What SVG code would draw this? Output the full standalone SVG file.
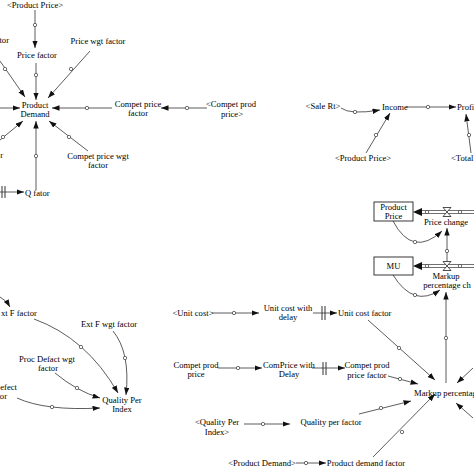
<svg xmlns="http://www.w3.org/2000/svg" width="474" height="474" viewBox="0 0 474 474">
<style>
text{font-family:"Liberation Serif","Times New Roman",serif;font-size:8.6px;fill:#000}
.m{text-anchor:middle}.e{text-anchor:end}
.c{fill:none;stroke:#333;stroke-width:0.8}
.a{marker-end:url(#ah)}
.o{fill:#fff;stroke:#333;stroke-width:0.7}
.box{fill:#fff;stroke:#222;stroke-width:0.9}
.p{fill:none;stroke:#333;stroke-width:0.7}
.d{stroke:#333;stroke-width:1}
.v{fill:#fff;stroke:#222;stroke-width:0.8}
</style>
<defs>
<marker id="ah" markerUnits="userSpaceOnUse" markerWidth="8" markerHeight="6" refX="7.5" refY="2.7" orient="auto"><path d="M0,0 L7.5,2.7 L0,5.4 z" fill="#111"/></marker>
</defs>
<rect width="474" height="474" fill="#fff"/>
<g id="connectors">
<path class="c a" d="M35,10 L35,48"/><circle class="o" cx="35" cy="25" r="1.7"/>
<path class="c a" d="M36,63 L36,100"/><circle class="o" cx="36" cy="75" r="1.7"/>
<path class="c a" d="M90,51 L48,98"/><circle class="o" cx="71" cy="69" r="1.7"/>
<path class="c a" d="M0,61 L25,97"/><circle class="o" cx="5" cy="69" r="1.7"/>
<path class="c a" d="M0,108 L20,108"/>
<path class="c a" d="M112,108 L52,108"/><circle class="o" cx="87" cy="108" r="1.7"/>
<path class="c a" d="M207,108 L161,108"/><circle class="o" cx="187" cy="108" r="1.7"/>
<path class="c a" d="M0,140 L23,121"/><circle class="o" cx="3" cy="137" r="1.7"/>
<path class="c a" d="M88,151 L49,121"/><circle class="o" cx="69" cy="137" r="1.7"/>
<path class="c a" d="M36,190 L36,121"/><circle class="o" cx="36" cy="156" r="1.7"/>
<path class="c a" d="M0,192 L24,192"/><line class="d" x1="2" y1="186" x2="2" y2="198"/><line class="d" x1="5" y1="186" x2="5" y2="198"/>
<path class="c a" d="M341,108 Q350,115 380,110"/><circle class="o" cx="355" cy="112" r="1.7"/>
<path class="c a" d="M406,107 L456,107"/><circle class="o" cx="428" cy="107" r="1.7"/>
<path class="c a" d="M366,153 L390,113"/><circle class="o" cx="376" cy="135" r="1.7"/>
<path class="c a" d="M471,153 L466,114"/><circle class="o" cx="469" cy="135" r="1.7"/>
<line class="p" x1="474" y1="210.5" x2="421" y2="210.5"/><line class="p" x1="474" y1="213.5" x2="421" y2="213.5"/>
<path d="M422,208 L413,212 L422,216 z" fill="#111"/>
<path class="v" d="M443,207.5 L451,207.5 L447,212 z M443,216.5 L451,216.5 L447,212 z"/>
<circle class="o" cx="427" cy="212" r="1.7"/><circle class="o" cx="460" cy="212" r="1.7"/>
<line class="p" x1="474" y1="264.5" x2="421" y2="264.5"/><line class="p" x1="474" y1="267.5" x2="421" y2="267.5"/>
<path d="M422,262 L413,266 L422,270 z" fill="#111"/>
<path class="v" d="M443,261.5 L451,261.5 L447,266 z M443,270.5 L451,270.5 L447,266 z"/>
<circle class="o" cx="427" cy="266" r="1.7"/><circle class="o" cx="460" cy="266" r="1.7"/>
<path class="c a" d="M393,221 Q412.5,258 442,231"/><circle class="o" cx="415" cy="242" r="1.7"/>
<path class="c a" d="M447,261 L447,228"/><circle class="o" cx="447" cy="251" r="1.7"/>
<path class="c a" d="M393,275 Q413.5,308 440,290"/><circle class="o" cx="415" cy="295" r="1.7"/>
<path class="c a" d="M446,383 L446,292"/><circle class="o" cx="446" cy="338" r="1.7"/>
<path class="c a" d="M212,313 L259,313"/><circle class="o" cx="234" cy="313" r="1.7"/>
<path class="c a" d="M313,313 L337,313"/><line class="d" x1="322" y1="306" x2="322" y2="320"/><line class="d" x1="325" y1="306" x2="325" y2="320"/>
<path class="c a" d="M368,320 L435,380"/><circle class="o" cx="399" cy="348" r="1.7"/>
<path class="c a" d="M218,368 L262,368"/><circle class="o" cx="238" cy="368" r="1.7"/>
<path class="c a" d="M312,368 L345,368"/><line class="d" x1="323" y1="362" x2="323" y2="375"/><line class="d" x1="326" y1="362" x2="326" y2="375"/>
<path class="c a" d="M388,376 L418,384"/><circle class="o" cx="400" cy="379" r="1.7"/>
<path class="c a" d="M359,414 L411,401"/><circle class="o" cx="381" cy="408" r="1.7"/>
<path class="c a" d="M244,424 L290,424"/><circle class="o" cx="263" cy="424" r="1.7"/>
<path class="c a" d="M296,463 L326,463"/><circle class="o" cx="306" cy="463" r="1.7"/>
<path class="c a" d="M373,457 L435,394"/><circle class="o" cx="402" cy="432" r="1.7"/>
<path class="c a" d="M473,368 L457,383"/>
<path class="c a" d="M473,418 L456,403"/>
<path class="c a" d="M0,297 Q6,300 10,307"/>
<path class="c a" d="M34,319 Q86.5,338 118,393"/><circle class="o" cx="81" cy="347" r="1.7"/>
<path class="c a" d="M113,331 Q130.5,352.5 126,395"/><circle class="o" cx="125" cy="358" r="1.7"/>
<path class="c a" d="M55,373 Q76.5,391 100,398"/><circle class="o" cx="77" cy="388" r="1.7"/>
<path class="c a" d="M17,398 Q45.5,411 100,408"/><circle class="o" cx="52" cy="407" r="1.7"/>
</g>
<g id="n-product-price-top"><text class="m" x="35" y="7.5">&lt;Product Price&gt;</text></g>
<g id="n-price-factor"><text class="m" x="37" y="58">Price factor</text></g>
<g id="n-product-demand"><text class="m" x="35" y="108">Product</text><text class="m" x="35" y="117">Demand</text></g>
<g id="n-price-wgt-factor"><text class="m" x="98" y="44">Price wgt factor</text></g>
<g id="n-left-top"><text class="e" x="9" y="43">tor</text></g>
<g id="n-compet-price-factor"><text class="m" x="138" y="107">Compet price</text><text class="m" x="138" y="116">factor</text></g>
<g id="n-compet-prod-price-shadow"><text class="m" x="231" y="107">&lt;Compet prod</text><text class="m" x="232" y="117">price&gt;</text></g>
<g id="n-left-bottom"><text class="e" x="3" y="158">r</text></g>
<g id="n-compet-price-wgt"><text class="m" x="98" y="159">Compet price wgt</text><text class="m" x="98" y="168">factor</text></g>
<g id="n-q-fator"><text x="25" y="196">Q fator</text></g>
<g id="n-sale-rt"><text class="m" x="323" y="109">&lt;Sale Rt&gt;</text></g>
<g id="n-income"><text x="382" y="110">Income</text></g>
<g id="n-profit"><text x="457" y="110">Profi</text></g>
<g id="n-product-price-2"><text class="m" x="363" y="161">&lt;Product Price&gt;</text></g>
<g id="n-total"><text x="451" y="161">&lt;Total</text></g>
<g id="n-product-price-stock"><rect class="box" x="374" y="202" width="39" height="19"/><text class="m" x="393.5" y="210">Product</text><text class="m" x="393.5" y="219">Price</text></g>
<g id="n-price-change"><text class="m" x="446" y="225">Price change</text></g>
<g id="n-mu"><rect class="box" x="374" y="257" width="39" height="18"/><text class="m" x="393.5" y="269">MU</text></g>
<g id="n-markup-pct-ch"><text class="m" x="446" y="279">Markup</text><text class="m" x="447" y="288">percentage ch</text></g>
<g id="n-unit-cost"><text class="m" x="193" y="316">&lt;Unit cost&gt;</text></g>
<g id="n-unit-cost-delay"><text class="m" x="288" y="311">Unit cost with</text><text class="m" x="288" y="320">delay</text></g>
<g id="n-unit-cost-factor"><text x="338" y="316">Unit cost factor</text></g>
<g id="n-compet-prod-price"><text class="m" x="196" y="368">Compet prod</text><text class="m" x="196" y="377">price</text></g>
<g id="n-comprice-delay"><text class="m" x="289" y="368">ComPrice with</text><text class="m" x="289" y="377">Delay</text></g>
<g id="n-compet-prod-price-factor"><text class="m" x="367" y="368">Compet prod</text><text class="m" x="367" y="377.5">price factor</text></g>
<g id="n-markup-pct"><text x="414" y="396">Markup percentag</text></g>
<g id="n-quality-per-index-shadow"><text class="m" x="217" y="425">&lt;Quality Per</text><text class="m" x="217" y="435">Index&gt;</text></g>
<g id="n-quality-per-factor"><text class="m" x="331" y="425">Quality per factor</text></g>
<g id="n-product-demand-shadow"><text class="m" x="262" y="466">&lt;Product Demand&gt;</text></g>
<g id="n-product-demand-factor"><text class="m" x="366" y="466">Product demand factor</text></g>
<g id="n-ext-f-factor"><text x="1" y="316">xt F factor</text></g>
<g id="n-ext-f-wgt"><text class="m" x="109" y="327">Ext F wgt factor</text></g>
<g id="n-proc-defact-wgt"><text class="m" x="47" y="362">Proc Defact wgt</text><text class="m" x="48" y="371">factor</text></g>
<g id="n-proc-defect"><text class="e" x="17" y="390">efect</text><text class="e" x="7" y="399">tor</text></g>
<g id="n-quality-per-index"><text class="m" x="122" y="402.5">Quality Per</text><text class="m" x="122" y="412">Index</text></g>
</svg>
